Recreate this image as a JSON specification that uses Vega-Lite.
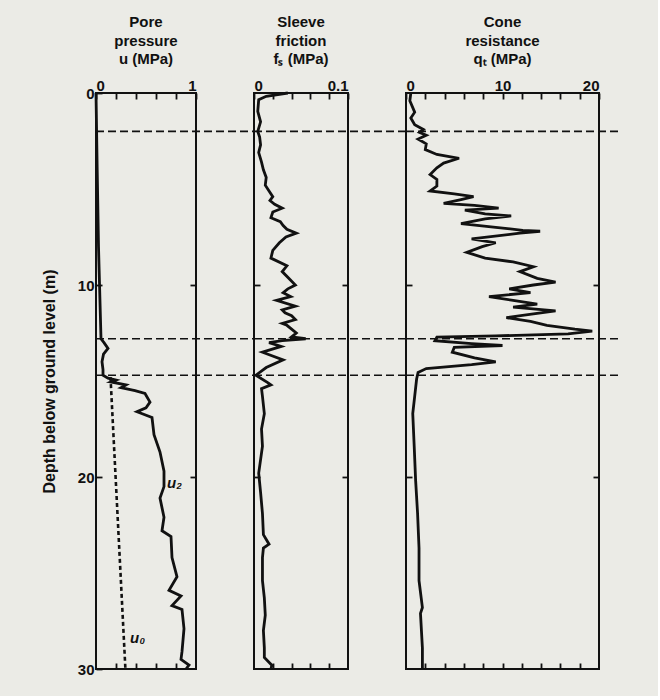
{
  "$schema": "https://vega.github.io/schema/vega-lite/v6.json",
  "background": "#ebebe6",
  "padding": {"left": 40, "top": 14, "right": 36, "bottom": 18},
  "autosize": {"type": "pad"},
  "datasets": {
    "u2": [
      {"depth": 0, "u": 0.0}, {"depth": 4, "u": 0.012}, {"depth": 8, "u": 0.025}, {"depth": 12.8, "u": 0.05},
      {"depth": 13.0, "u": 0.08}, {"depth": 13.3, "u": 0.12}, {"depth": 13.6, "u": 0.075}, {"depth": 14.0, "u": 0.06},
      {"depth": 14.4, "u": 0.07}, {"depth": 14.7, "u": 0.07}, {"depth": 14.85, "u": 0.12}, {"depth": 14.95, "u": 0.2},
      {"depth": 15.05, "u": 0.15}, {"depth": 15.2, "u": 0.3}, {"depth": 15.35, "u": 0.25}, {"depth": 15.5, "u": 0.39},
      {"depth": 15.65, "u": 0.49}, {"depth": 16.1, "u": 0.54}, {"depth": 16.4, "u": 0.5}, {"depth": 16.6, "u": 0.41},
      {"depth": 16.9, "u": 0.56}, {"depth": 17.8, "u": 0.58}, {"depth": 18.7, "u": 0.64}, {"depth": 19.7, "u": 0.68},
      {"depth": 20.5, "u": 0.68}, {"depth": 21.1, "u": 0.64}, {"depth": 22.1, "u": 0.68}, {"depth": 22.8, "u": 0.66},
      {"depth": 23.1, "u": 0.75}, {"depth": 24.2, "u": 0.76}, {"depth": 25.2, "u": 0.81}, {"depth": 25.9, "u": 0.73},
      {"depth": 26.2, "u": 0.85}, {"depth": 26.7, "u": 0.76}, {"depth": 26.9, "u": 0.86}, {"depth": 27.9, "u": 0.88},
      {"depth": 29.1, "u": 0.86}, {"depth": 29.5, "u": 0.85}, {"depth": 29.8, "u": 0.93}, {"depth": 30, "u": 0.9}
    ],
    "u0": [{"depth": 14.8, "u": 0.145}, {"depth": 30, "u": 0.294}],
    "labels1": [{"label": "u₂", "u": 0.71, "depth": 20.3}, {"label": "u₀", "u": 0.34, "depth": 28.4}],
    "fs": [
      {"depth": 0, "fs": 0.036}, {"depth": 0.17, "fs": 0.013}, {"depth": 0.35, "fs": 0.005}, {"depth": 0.96, "fs": 0.004},
      {"depth": 1.5, "fs": 0.007}, {"depth": 2.0, "fs": 0.004}, {"depth": 2.3, "fs": 0.006}, {"depth": 2.7, "fs": 0.007},
      {"depth": 3.1, "fs": 0.005}, {"depth": 3.6, "fs": 0.008}, {"depth": 4.0, "fs": 0.01}, {"depth": 4.4, "fs": 0.013},
      {"depth": 4.8, "fs": 0.012}, {"depth": 5.1, "fs": 0.016}, {"depth": 5.4, "fs": 0.02}, {"depth": 5.6, "fs": 0.017},
      {"depth": 5.8, "fs": 0.022}, {"depth": 6.0, "fs": 0.03}, {"depth": 6.2, "fs": 0.02}, {"depth": 6.5, "fs": 0.018},
      {"depth": 6.7, "fs": 0.028}, {"depth": 6.9, "fs": 0.031}, {"depth": 7.1, "fs": 0.035}, {"depth": 7.3, "fs": 0.045},
      {"depth": 7.5, "fs": 0.034}, {"depth": 7.8, "fs": 0.027}, {"depth": 8.2, "fs": 0.02}, {"depth": 8.6, "fs": 0.018},
      {"depth": 9.0, "fs": 0.035}, {"depth": 9.3, "fs": 0.03}, {"depth": 9.7, "fs": 0.038}, {"depth": 10.0, "fs": 0.044},
      {"depth": 10.2, "fs": 0.036}, {"depth": 10.4, "fs": 0.031}, {"depth": 10.6, "fs": 0.039}, {"depth": 10.8, "fs": 0.024},
      {"depth": 11.1, "fs": 0.044}, {"depth": 11.3, "fs": 0.03}, {"depth": 11.45, "fs": 0.033}, {"depth": 11.6, "fs": 0.04},
      {"depth": 11.8, "fs": 0.044}, {"depth": 12.0, "fs": 0.03}, {"depth": 12.1, "fs": 0.035}, {"depth": 12.3, "fs": 0.04},
      {"depth": 12.5, "fs": 0.045}, {"depth": 12.7, "fs": 0.04}, {"depth": 12.8, "fs": 0.055}, {"depth": 12.9, "fs": 0.03},
      {"depth": 13.0, "fs": 0.016}, {"depth": 13.2, "fs": 0.029}, {"depth": 13.5, "fs": 0.009}, {"depth": 13.9, "fs": 0.031},
      {"depth": 14.3, "fs": 0.013}, {"depth": 14.7, "fs": 0.002}, {"depth": 15.1, "fs": 0.015}, {"depth": 15.2, "fs": 0.018},
      {"depth": 15.4, "fs": 0.008}, {"depth": 15.8, "fs": 0.009}, {"depth": 16.7, "fs": 0.011}, {"depth": 17.5, "fs": 0.008},
      {"depth": 18.4, "fs": 0.009}, {"depth": 19.8, "fs": 0.005}, {"depth": 20.8, "fs": 0.007}, {"depth": 21.9, "fs": 0.009},
      {"depth": 23.0, "fs": 0.01}, {"depth": 23.5, "fs": 0.016}, {"depth": 23.7, "fs": 0.01}, {"depth": 24.2, "fs": 0.009},
      {"depth": 25.4, "fs": 0.009}, {"depth": 26.3, "fs": 0.011}, {"depth": 27.2, "fs": 0.012}, {"depth": 28.0, "fs": 0.01},
      {"depth": 28.9, "fs": 0.011}, {"depth": 29.4, "fs": 0.011}, {"depth": 29.8, "fs": 0.019}, {"depth": 30, "fs": 0.018}
    ],
    "qt": [
      {"depth": 0, "q": 0.5}, {"depth": 0.4, "q": 0.4}, {"depth": 1.0, "q": 0.9}, {"depth": 1.3, "q": 0.5},
      {"depth": 1.65, "q": 0.9}, {"depth": 1.9, "q": 1.8}, {"depth": 2.05, "q": 1.4}, {"depth": 2.2, "q": 2.1},
      {"depth": 2.4, "q": 1.25}, {"depth": 2.65, "q": 2.1}, {"depth": 2.95, "q": 2.0}, {"depth": 3.2, "q": 3.2},
      {"depth": 3.4, "q": 5.5}, {"depth": 3.65, "q": 3.9}, {"depth": 3.9, "q": 3.2}, {"depth": 4.25, "q": 2.5},
      {"depth": 4.5, "q": 3.2}, {"depth": 4.85, "q": 3.2}, {"depth": 5.1, "q": 2.5}, {"depth": 5.25, "q": 5.0},
      {"depth": 5.4, "q": 7.0}, {"depth": 5.55, "q": 5.7}, {"depth": 5.75, "q": 3.9}, {"depth": 5.85, "q": 7.1},
      {"depth": 6.0, "q": 9.6}, {"depth": 6.1, "q": 6.1}, {"depth": 6.3, "q": 8.2}, {"depth": 6.4, "q": 10.9},
      {"depth": 6.55, "q": 8.2}, {"depth": 6.8, "q": 5.7}, {"depth": 7.0, "q": 9.3}, {"depth": 7.15, "q": 12.1},
      {"depth": 7.2, "q": 13.9}, {"depth": 7.3, "q": 11.8}, {"depth": 7.6, "q": 6.8}, {"depth": 7.8, "q": 9.3},
      {"depth": 8.0, "q": 7.9}, {"depth": 8.3, "q": 6.3}, {"depth": 8.6, "q": 8.2}, {"depth": 8.8, "q": 11.1},
      {"depth": 9.05, "q": 13.2}, {"depth": 9.3, "q": 11.8}, {"depth": 9.65, "q": 13.6}, {"depth": 9.85, "q": 15.5},
      {"depth": 10.0, "q": 13.2}, {"depth": 10.2, "q": 10.7}, {"depth": 10.4, "q": 12.9}, {"depth": 10.6, "q": 8.6},
      {"depth": 10.8, "q": 11.1}, {"depth": 11.0, "q": 13.6}, {"depth": 11.15, "q": 11.1}, {"depth": 11.35, "q": 15.5},
      {"depth": 11.5, "q": 13.2}, {"depth": 11.7, "q": 10.4}, {"depth": 11.9, "q": 12.9}, {"depth": 12.1, "q": 14.6},
      {"depth": 12.3, "q": 17.5}, {"depth": 12.4, "q": 19.3}, {"depth": 12.55, "q": 16.8}, {"depth": 12.65, "q": 9.3},
      {"depth": 12.72, "q": 3.2}, {"depth": 12.9, "q": 3.0}, {"depth": 13.05, "q": 6.8}, {"depth": 13.15, "q": 10.0},
      {"depth": 13.25, "q": 5.0}, {"depth": 13.5, "q": 4.8}, {"depth": 13.8, "q": 7.1}, {"depth": 14.0, "q": 9.3},
      {"depth": 14.15, "q": 6.8}, {"depth": 14.35, "q": 2.1}, {"depth": 14.55, "q": 1.25}, {"depth": 14.9, "q": 1.1},
      {"depth": 15.8, "q": 0.9}, {"depth": 16.7, "q": 0.7}, {"depth": 18.4, "q": 0.85}, {"depth": 20.2, "q": 1.0},
      {"depth": 21.9, "q": 1.2}, {"depth": 23.7, "q": 1.35}, {"depth": 25.4, "q": 1.35}, {"depth": 26.8, "q": 1.7},
      {"depth": 27.1, "q": 1.5}, {"depth": 28.9, "q": 1.7}, {"depth": 30, "q": 1.7}
    ],
    "dash": [{"depth": 2.0}, {"depth": 12.8}, {"depth": 14.7}]
  },
  "hconcat": [
    {
      "width": 100, "height": 576,
      "title": {"text": ["Pore", "pressure", "u (MPa)"]},
      "layer": [
        {
          "data": {"name": "u2"},
          "mark": {"type": "line", "color": "#111", "strokeWidth": 2.8},
          "encoding": {
            "x": {"field": "u", "type": "quantitative", "scale": {"domain": [0, 1], "nice": false, "zero": false},
                  "axis": {"orient": "top", "title": null, "values": [0, 0.2, 0.4, 0.6, 0.8, 1], "labelFlush": true, "labelPadding": 6,
                           "labelExpr": "datum.value == 0 ? '0' : datum.value == 1 ? '1' : ''"}},
            "y": {"field": "depth", "type": "quantitative", "scale": {"domain": [0, 30], "reverse": true, "nice": false},
                  "axis": {"orient": "left", "values": [0, 10, 20, 30], "labelPadding": 8, "title": "Depth below ground level (m)", "titlePadding": 20}},
            "order": {"field": "depth", "type": "quantitative"}
          }
        },
        {
          "data": {"name": "u0"},
          "mark": {"type": "line", "color": "#111", "strokeWidth": 2.6, "strokeDash": [4, 3]},
          "encoding": {
            "x": {"field": "u", "type": "quantitative", "scale": {"domain": [0, 1], "nice": false, "zero": false},
                  "axis": {"orient": "bottom", "title": null, "values": [0.2, 0.4, 0.6, 0.8], "labels": false}},
            "y": {"field": "depth", "type": "quantitative", "scale": {"domain": [0, 30], "reverse": true, "nice": false},
                  "axis": {"orient": "right", "title": null, "values": [10, 20], "labels": false}},
            "order": {"field": "depth", "type": "quantitative"}
          }
        },
        {
          "data": {"name": "dash"},
          "mark": {"type": "rule", "color": "#111", "strokeWidth": 1.7, "strokeDash": [8, 4]},
          "encoding": {
            "y": {"field": "depth", "type": "quantitative", "axis": null},
            "x": {"datum": 0, "axis": null},
            "x2": {"datum": 1.58}
          }
        },
        {
          "data": {"name": "labels1"},
          "mark": {"type": "text", "align": "left", "baseline": "middle", "font": "Liberation Sans", "fontSize": 15, "fontStyle": "italic", "fontWeight": "bold", "color": "#111"},
          "encoding": {
            "x": {"field": "u", "type": "quantitative", "axis": null},
            "y": {"field": "depth", "type": "quantitative", "axis": null},
            "text": {"field": "label"}
          }
        }
      ],
      "resolve": {"axis": {"x": "independent", "y": "independent"}}
    },
    {
      "width": 94, "height": 576,
      "title": {"text": ["Sleeve", "friction", "fₛ (MPa)"]},
      "layer": [
        {
          "data": {"name": "fs"},
          "mark": {"type": "line", "color": "#111", "strokeWidth": 2.8},
          "encoding": {
            "x": {"field": "fs", "type": "quantitative", "scale": {"domain": [0, 0.1], "nice": false},
                  "axis": {"orient": "top", "title": null, "values": [0, 0.02, 0.04, 0.06, 0.08, 0.1], "labelFlush": true, "labelPadding": 6,
                           "labelExpr": "datum.value == 0 ? '0' : datum.value == 0.1 ? '0.1' : ''"}},
            "y": {"field": "depth", "type": "quantitative", "scale": {"domain": [0, 30], "reverse": true, "nice": false},
                  "axis": {"orient": "left", "values": [10, 20], "labels": false, "title": null}},
            "order": {"field": "depth", "type": "quantitative"}
          }
        },
        {
          "data": {"name": "dash"},
          "mark": {"type": "rule", "color": "#111", "strokeWidth": 1.7, "strokeDash": [8, 4]},
          "encoding": {
            "y": {"field": "depth", "type": "quantitative", "axis": {"orient": "right", "values": [10, 20], "labels": false, "title": null}},
            "x": {"datum": 0, "axis": {"orient": "bottom", "values": [0.02, 0.04, 0.06, 0.08], "labels": false, "title": null}},
            "x2": {"datum": 0.163}
          }
        }
      ],
      "resolve": {"axis": {"x": "independent", "y": "independent"}}
    },
    {
      "width": 193, "height": 576,
      "title": {"text": ["Cone", "resistance", "qₜ (MPa)"]},
      "layer": [
        {
          "data": {"name": "qt"},
          "mark": {"type": "line", "color": "#111", "strokeWidth": 2.8},
          "encoding": {
            "x": {"field": "q", "type": "quantitative", "scale": {"domain": [0, 20], "nice": false},
                  "axis": {"orient": "top", "title": null, "values": [0, 2, 4, 6, 8, 10, 12, 14, 16, 18, 20], "labelFlush": true, "labelPadding": 6,
                           "labelExpr": "datum.value % 10 == 0 ? datum.label : ''"}},
            "y": {"field": "depth", "type": "quantitative", "scale": {"domain": [0, 30], "reverse": true, "nice": false},
                  "axis": {"orient": "left", "values": [10, 20], "labels": false, "title": null}},
            "order": {"field": "depth", "type": "quantitative"}
          }
        },
        {
          "data": {"name": "dash"},
          "mark": {"type": "rule", "color": "#111", "strokeWidth": 1.7, "strokeDash": [8, 4]},
          "encoding": {
            "y": {"field": "depth", "type": "quantitative", "axis": {"orient": "right", "values": [10, 20], "labels": false, "title": null}},
            "x": {"datum": 0, "axis": {"orient": "bottom", "values": [2, 4, 6, 8, 10, 12, 14, 16, 18], "labels": false, "title": null}},
            "x2": {"datum": 22.1}
          }
        }
      ],
      "resolve": {"axis": {"x": "independent", "y": "independent"}}
    }
  ],
  "spacing": 58,
  "bounds": "flush",
  "config": {
    "view": {"stroke": "#111", "strokeWidth": 2},
    "axis": {
      "grid": false, "domain": false, "ticks": true, "tickColor": "#111", "tickSize": -6, "tickWidth": 1.8,
      "labelFont": "Liberation Sans", "labelFontSize": 15, "labelFontWeight": "bold", "labelColor": "#111", "labelPadding": 3,
      "titleFont": "Liberation Sans", "titleFontSize": 16, "titleFontWeight": "bold", "titleColor": "#111"
    },
    "title": {"font": "Liberation Sans", "fontSize": 15, "fontWeight": "bold", "color": "#111", "lineHeight": 18.5, "offset": 11, "anchor": "middle"}
  }
}
